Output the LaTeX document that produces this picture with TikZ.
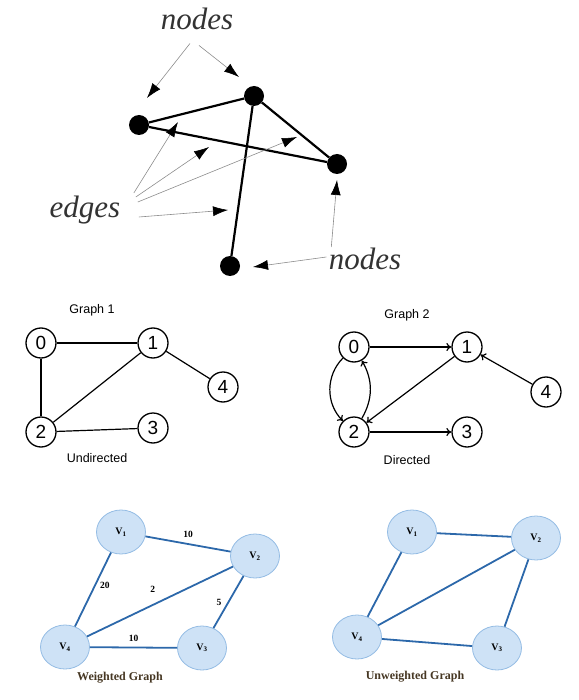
\documentclass[tikz,border=0pt]{standalone}
\usepackage{fontspec}
\setmainfont{Liberation Serif}
\setsansfont{Liberation Sans}
\usetikzlibrary{
    arrows.meta,
    positioning,
    calc,
    shapes.geometric
}
\definecolor{vfill}{RGB}{206, 226, 246}
\definecolor{vborder}{RGB}{148, 188, 228}
\definecolor{vedge}{RGB}{44, 104, 170}
\definecolor{capbrown}{RGB}{70, 55, 35}
\definecolor{pointgray}{RGB}{140, 140, 140}

\begin{document}
\begin{tikzpicture}[
        x=1pt, y=-1pt,
        dot/.style={circle, fill=black, minimum size=20pt, inner sep=0pt},
        bigedge/.style={line width=2.2pt},
        note/.style={font=\itshape\fontsize{31}{31}\selectfont, text=black!80},
        pointer/.style={-{Latex[length=15pt,width=10pt,black]}, draw=pointgray, line width=0.6pt},
        vtx/.style={circle, draw, line width=1.3pt, minimum size=30pt, inner sep=0pt, font=\sffamily\fontsize{19}{19}\selectfont},
        gtitle/.style={font=\sffamily\fontsize{12.5}{12.5}\selectfont},
        undir/.style={line width=1.2pt},
        dir/.style={-{To[length=5pt,width=8pt]}, line width=1.2pt},
        wvtx/.style={ellipse, draw=vborder, fill=vfill, line width=0.8pt, minimum width=49pt, minimum height=44pt, inner sep=0pt, font=\bfseries\fontsize{10}{10}\selectfont},
        wedge/.style={draw=vedge, line width=1.8pt},
        weight/.style={font=\bfseries\fontsize{9.5}{9.5}\selectfont},
        caption/.style={font=\bfseries\fontsize{12}{12}\selectfont, text=capbrown}
    ]
        \useasboundingbox (0,0) rectangle (578,700);

        % Top: nodes and edges
        \node[dot] (ta) at (139,125) {};
        \node[dot] (tb) at (254,96) {};
        \node[dot] (tc) at (337,164) {};
        \node[dot] (td) at (230,266) {};
        \draw[bigedge] (ta) -- (tb);
        \draw[bigedge] (tb) -- (tc);
        \draw[bigedge] (ta) -- (tc);
        \draw[bigedge] (tb) -- (td);

        % Top: labels and pointers
        \node[note] (ntop) at (197,19) {nodes};
        \node[note] (nedges) at (85,210) {edges};
        \node[note] (nbot) at (365,259) {nodes};
        \coordinate (pa) at (147,98);
        \coordinate (pb) at (239,77);
        \coordinate (pc) at (337,180);
        \coordinate (pd) at (253,267);
        \coordinate (e1) at (178,122);
        \coordinate (e2) at (209,147);
        \coordinate (e3) at (297,137);
        \coordinate (e4) at (228,210);
        \draw[pointer] ([xshift=-7pt,yshift=-10pt]ntop.south) -- (pa);
        \draw[pointer] ([xshift=2pt,yshift=-12pt]ntop.south) -- (pb);
        \draw[pointer] ([xshift=10pt,yshift=17pt]nedges.east) -- (e1);
        \draw[pointer] ([xshift=12pt,yshift=13pt]nedges.east) -- (e2);
        \draw[pointer] ([xshift=14pt,yshift=8pt]nedges.east) -- (e3);
        \draw[pointer] ([xshift=15pt,yshift=-7pt]nedges.east) -- (e4);
        \draw[pointer] ([xshift=6pt,yshift=12pt]nbot.west) -- (pc);
        \draw[pointer] ([xshift=1pt,yshift=2pt]nbot.west) -- (pd);

        % Graph 1
        \node[gtitle] (g1title) at (92,310) {Graph 1};
        \node[vtx] (g1n0) at (41,343) {0};
        \node[vtx] (g1n1) at (153,343) {1};
        \node[vtx] (g1n4) at (223,387) {4};
        \node[vtx] (g1n2) at (41,432) {2};
        \node[vtx] (g1n3) at (153,428) {3};
        \node[gtitle] (g1cap) at (97,458) {Undirected};
        \draw[undir] (g1n0) -- (g1n1);
        \draw[undir] (g1n0) -- (g1n2);
        \draw[undir] (g1n1) -- (g1n2);
        \draw[undir] (g1n1) -- (g1n4);
        \draw[undir] (g1n2) -- (g1n3);

        % Graph 2
        \node[gtitle] (g2title) at (407,315) {Graph 2};
        \node[vtx] (g2n0) at (354,347) {0};
        \node[vtx] (g2n1) at (467,347) {1};
        \node[vtx] (g2n4) at (546,392) {4};
        \node[vtx] (g2n2) at (354,432) {2};
        \node[vtx] (g2n3) at (467,432) {3};
        \node[gtitle] (g2cap) at (407,460) {Directed};
        \draw[dir] (g2n0) -- (g2n1);
        \draw[dir] (g2n4) -- (g2n1);
        \draw[dir] (g2n1) -- (g2n2);
        \draw[dir] (g2n2) -- (g2n3);
        \draw[dir] (g2n0) to[out=225, in=135] (g2n2);
        \draw[dir] (g2n2) to[out=60, in=-60] (g2n0);

        % Weighted graph
        \node[wvtx] (w1) at (121,532) {V\textsubscript{1}};
        \node[wvtx] (w2) at (255,556) {V\textsubscript{2}};
        \node[wvtx] (w4) at (65,647) {V\textsubscript{4}};
        \node[wvtx] (w3) at (202,648) {V\textsubscript{3}};
        \draw[wedge] (w1) -- node[weight, above=2pt] {10} (w2);
        \draw[wedge] (w1) -- node[weight, right=1pt, pos=0.45] {20} (w4);
        \draw[wedge] (w2) -- node[weight, above=8pt, pos=0.55] {2} (w4);
        \draw[wedge] (w2) -- node[weight, left=3pt] {5} (w3);
        \draw[wedge] (w4) -- node[weight, above=2pt] {10} (w3);
        \node[caption] (wcap) at (120,678) {Weighted Graph};

        % Unweighted graph
        \node[wvtx] (u1) at (412,532) {V\textsubscript{1}};
        \node[wvtx] (u2) at (536,538) {V\textsubscript{2}};
        \node[wvtx] (u4) at (357,637) {V\textsubscript{4}};
        \node[wvtx] (u3) at (497,648) {V\textsubscript{3}};
        \draw[wedge] (u1) -- (u2);
        \draw[wedge] (u1) -- (u4);
        \draw[wedge] (u2) -- (u4);
        \draw[wedge] (u2) -- (u3);
        \draw[wedge] (u4) -- (u3);
        \node[caption] (ucap) at (415,677) {Unweighted Graph};
    \end{tikzpicture}
\end{document}
